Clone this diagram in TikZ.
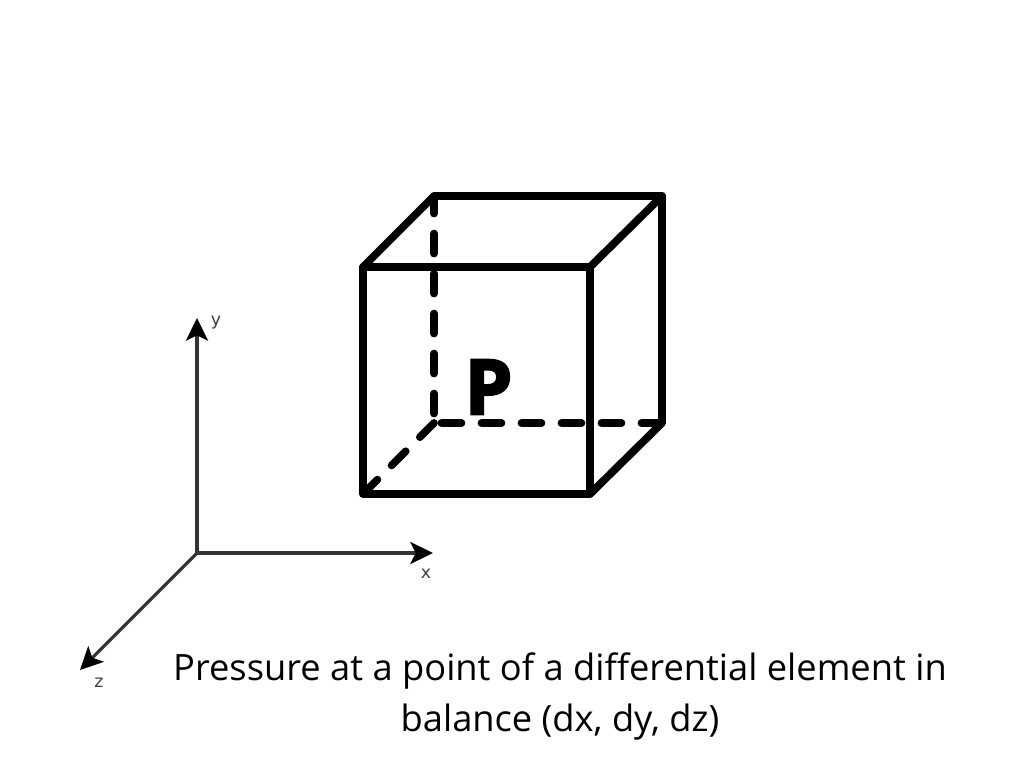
\documentclass[tikz,border=0pt]{standalone}
\usepackage{fontspec}
\usetikzlibrary{arrows.meta}
\setmainfont{Open Sans}
\newfontfamily\axisfont{DejaVu Sans}
\newfontfamily\heavyfont[FakeBold=3.2]{Open Sans Bold}
\tikzset{
  edge/.style={line width=5.8pt,line join=round,line cap=round,black},
  hidden/.style={line width=5.8pt,line cap=round,black,dash pattern=on 15pt off 15pt},
  axis/.style={line width=2.4pt,black!80,-{Stealth[length=17pt,width=16.5pt,inset=4pt,black]}},
  axislabel/.style={font=\axisfont\fontsize{13pt}{15pt}\selectfont,text=black!75,inner sep=0pt},
  caption/.style={font=\fontsize{27.2pt}{38pt}\selectfont,align=center,inner sep=0pt,text=black}
}
\begin{document}
\begin{tikzpicture}[x=0.75pt,y=-0.75pt]
\useasboundingbox (0,0) rectangle (1024,768);
\fill[white] (0,0) rectangle (1024,768);
% cube corners
\coordinate (ftl) at (363,267);
\coordinate (ftr) at (590,267);
\coordinate (fbl) at (363,494);
\coordinate (fbr) at (590,494);
\coordinate (btl) at (434,196);
\coordinate (btr) at (662,196);
\coordinate (bbl) at (434,423);
\coordinate (bbr) at (662,423);
% hidden edges
\draw[hidden,dash phase=22.9pt] (bbl) -- (btl);
\draw[hidden,dash phase=24.4pt] (bbl) -- (bbr);
\draw[hidden] (bbl) -- (fbl);
% visible edges
\draw[edge] (ftl) rectangle (fbr);
\draw[edge] (ftl) -- (btl) -- (btr) -- (ftr);
\draw[edge] (btr) -- (bbr) -- (fbr);
% label P
\node[font=\heavyfont\fontsize{57pt}{57pt}\selectfont,inner sep=0pt] (p) at (488.5,387) {P};
% axes
\coordinate (o) at (197,553);
\coordinate (ytip) at (197,318);
\coordinate (xtip) at (433,553);
\coordinate (ztip) at (80,670);
\draw[axis] (o) -- (ytip);
\draw[axis] (o) -- (xtip);
\draw[axis] (o) -- (ztip);
\node[axislabel] (ly) at (216,323) {y};
\node[axislabel] (lx) at (426,574) {x};
\node[axislabel] (lz) at (99,683) {z};
\node[caption] (cap) at (560,696.5) {Pressure at a point of a differential element in\\balance (dx, dy, dz)};
\end{tikzpicture}
\end{document}
